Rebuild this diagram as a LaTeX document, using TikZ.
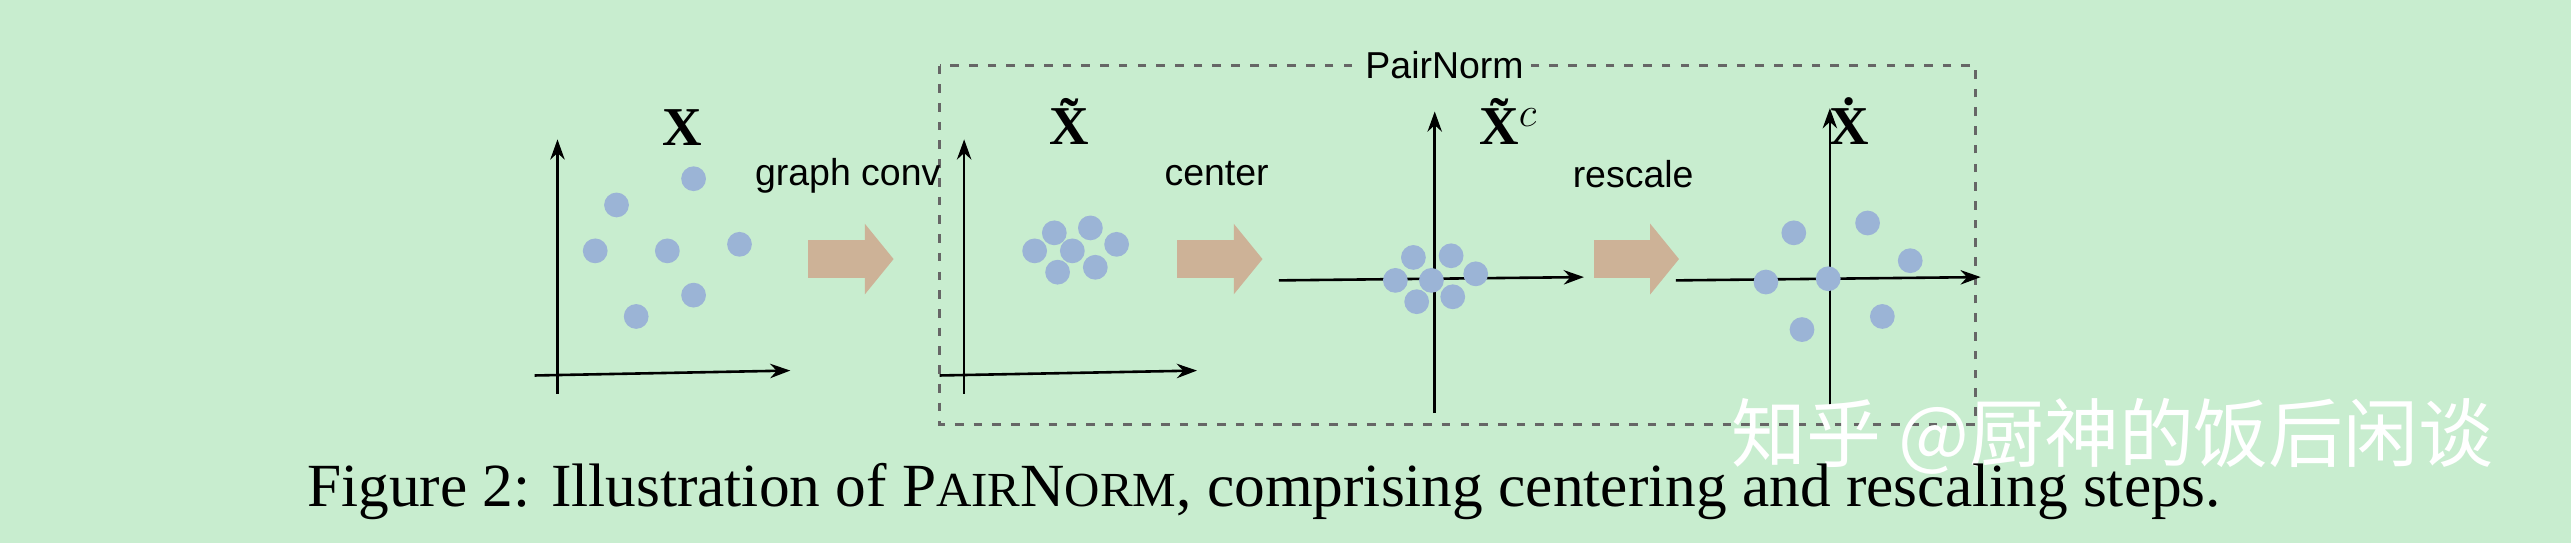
\documentclass[tikz,border=0pt]{standalone}
\usepackage{fontspec}
\setmainfont{Liberation Serif}
\setsansfont{Liberation Sans}
\newfontfamily\cjk{Noto Sans CJK SC}
\usetikzlibrary{arrows.meta}
\definecolor{bg}{HTML}{C8EDCF}
\definecolor{dotc}{HTML}{9BB4D6}
\definecolor{arr}{HTML}{CDB297}
\begin{document}
\begin{tikzpicture}[x=0.02cm,y=-0.02cm,
  ax/.style={line width=0.9pt,-{Stealth[length=7pt,width=5pt]}},
  pt/.style={circle,fill=dotc,inner sep=0pt,minimum size=8.6pt},
  fat/.style={line width=13pt,arr,-{Triangle[length=10pt,width=24pt]}},
  lab/.style={font=\sffamily\fontsize{13}{15}\selectfont},
  mx/.style={font=\bfseries\fontsize{19}{21}\selectfont}]
\fill[bg] (0,0) rectangle (1568,331);
\useasboundingbox (0,0) rectangle (1568,331);
\draw[line width=1pt,black!60,dash pattern=on 3pt off 3.5pt] (573,40) rectangle (1205,259);
\node[lab,fill=bg,inner sep=2pt] (pn) at (881,40) {PairNorm};
% plot 1
\coordinate (a1) at (340,240); \coordinate (a2) at (340,85);
\coordinate (b1) at (326,229); \coordinate (b2) at (482,226);
\draw[ax] (a1) -- (a2); \draw[ax] (b1) -- (b2);
\foreach \p/\q [count=\i] in {376/125,423/109,363/153,407/153,451/149,388/193,423/180}
  \node[pt] (p1\i) at (\p,\q) {};
\node[mx] (l1) at (416,78) {X};
\node[lab] (t1) at (517,107) {graph conv};
\coordinate (f1a) at (493,158); \coordinate (f1b) at (545,158);
\draw[fat] (f1a) -- (f1b);
% plot 2
\coordinate (c1) at (588,240); \coordinate (c2) at (588,85);
\coordinate (d1) at (573,229); \coordinate (d2) at (730,226);
\draw[ax] (c1) -- (c2); \draw[ax] (d1) -- (d2);
\foreach \p/\q [count=\i] in {643/142,665/139,631/153,654/153,681/149,645/166,668/163}
  \node[pt] (p2\i) at (\p,\q) {};
\node[mx] (l2) at (652,74) {\~X};
\node[lab] (t2) at (742,106) {center};
\coordinate (f2a) at (718,158); \coordinate (f2b) at (770,158);
\draw[fat] (f2a) -- (f2b);
% plot 3
\coordinate (e1) at (875,252); \coordinate (e2) at (875,68);
\coordinate (g1) at (780,171); \coordinate (g2) at (966,169);
\draw[ax] (e1) -- (e2); \draw[ax] (g1) -- (g2);
\foreach \p/\q [count=\i] in {862/157,885/156,851/171,873/171,900/167,864/184,886/181}
  \node[pt] (p3\i) at (\p,\q) {};
\node[mx] (l3) at (920,74) {\~X$^{c}$};
\node[lab] (t3) at (996,106) {rescale};
\coordinate (f3a) at (972,158); \coordinate (f3b) at (1024,158);
\draw[fat] (f3a) -- (f3b);
% plot 4
\coordinate (h1) at (1116,248); \coordinate (h2) at (1116,66);
\coordinate (k1) at (1022,171); \coordinate (k2) at (1208,169);
\draw[ax] (h1) -- (h2); \draw[ax] (k1) -- (k2);
\foreach \p/\q [count=\i] in {1094/142,1139/136,1077/172,1115/170,1165/159,1099/201,1148/193}
  \node[pt] (p4\i) at (\p,\q) {};
\node[mx] (l4) at (1128,74) {\.X};
% watermark
\node[font=\cjk\fontsize{26}{28}\selectfont,text=white,anchor=west] (wm) at (1050,266) {知乎 @厨神的饭后闲谈};
% caption
\node[font=\fontsize{21.3}{24}\selectfont] (cap) at (771,300)
 {Figure 2: Illustration of P{\fontsize{17}{19}\selectfont AIR}N{\fontsize{17}{19}\selectfont ORM}, comprising centering and rescaling steps.};
\end{tikzpicture}
\end{document}
